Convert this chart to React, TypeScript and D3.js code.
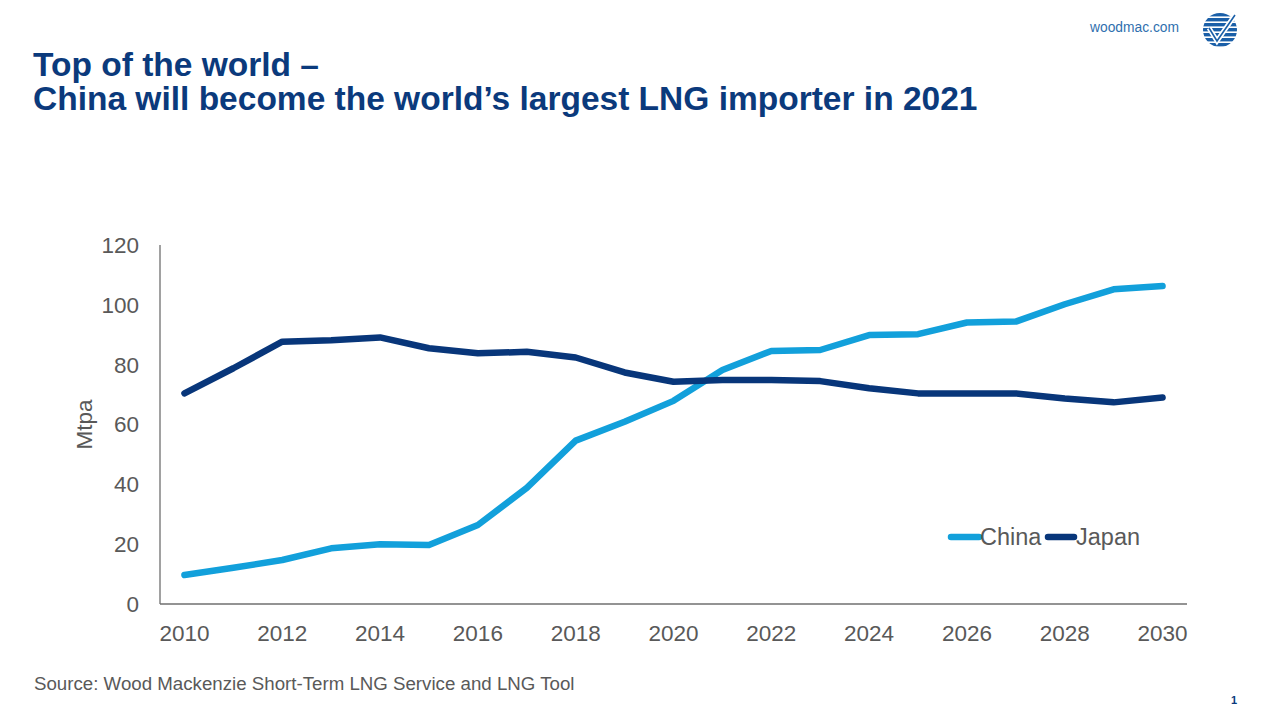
import React from 'react';
import * as d3 from 'd3';

const years = d3.range(2010, 2031).map(String);
const xTickLabels = ['2010', '2012', '2014', '2016', '2018', '2020', '2022', '2024', '2026', '2028', '2030'];
const yTicks = [0, 20, 40, 60, 80, 100, 120];

const china = [9.7, 12.1, 14.7, 18.6, 20.0, 19.7, 26.4, 38.8, 54.6, 60.9, 67.9, 78.2, 84.6, 84.9, 89.9, 90.2, 94.1, 94.4, 100.2, 105.2, 106.3];
const japan = [70.4, 78.8, 87.7, 88.2, 89.1, 85.5, 83.8, 84.3, 82.4, 77.4, 74.3, 74.9, 74.9, 74.5, 72.1, 70.4, 70.4, 70.4, 68.7, 67.4, 69.0];

const series = [
    { name: 'China', values: china, color: '#12a0db' },
    { name: 'Japan', values: japan, color: '#08367a' },
];

const W = 1280;
const H = 720;
const plot = { left: 160, right: 1187, top: 245, bottom: 604 };
const font = 'Arial, "Liberation Sans", sans-serif';
const navy = '#0b3a7c';
const grey = '#595959';

export default function App() {
    const x = d3.scaleBand().domain(years).range([plot.left, plot.right]);
    const y = d3.scaleLinear().domain([0, 120]).range([plot.bottom, plot.top]);
    const cx = (yr: string) => x(yr)! + x.bandwidth() / 2;

    const line = d3
        .line<number>()
        .x((_, i) => cx(years[i]))
        .y((v) => y(v));

    // logo stripes
    const logo = { cx: 1220, cy: 30, r: 17 };
    const stripes = d3.range(-logo.r, logo.r, 5);
    const check = `M${logo.cx - 11},${logo.cy - 2} L${logo.cx - 3},${logo.cy + 11} L${logo.cx + 15},${logo.cy - 15}`;

    return (
        <svg
            width={W}
            height={H}
            style={{ position: 'absolute', left: 0, top: 0, background: '#fff' }}
            fontFamily={font}
        >
            <rect width={W} height={H} fill="#fff" />

            {/* header */}
            <text x={1090} y={32} fontSize={13.8} fill="#2f6fae">woodmac.com</text>
            <defs>
                <clipPath id="logoClip">
                    <circle cx={logo.cx} cy={logo.cy} r={logo.r} />
                </clipPath>
            </defs>
            <g clipPath="url(#logoClip)">
                <circle cx={logo.cx} cy={logo.cy} r={logo.r} fill="#fff" />
                {stripes.map((s, i) => (
                    <rect key={i} x={logo.cx - logo.r} y={logo.cy + s} width={logo.r * 2} height={3.4} fill="#1a5fa8" />
                ))}
            </g>
            <path d={check} fill="none" stroke="#fff" strokeWidth={5} />
            <path d={check} fill="none" stroke="#1a5fa8" strokeWidth={1.6} />

            <text x={33} y={76} fontSize={33.5} fontWeight="bold" fill={navy}>Top of the world –</text>
            <text x={33} y={110} fontSize={33.5} fontWeight="bold" fill={navy}>
                China will become the world’s largest LNG importer in 2021
            </text>

            {/* axes */}
            <line x1={plot.left} x2={plot.left} y1={plot.top} y2={plot.bottom} stroke="#6f6f6f" strokeWidth={1.3} />
            <line x1={plot.left} x2={plot.right} y1={plot.bottom} y2={plot.bottom} stroke="#6f6f6f" strokeWidth={1.3} />

            {yTicks.map((t) => (
                <text key={t} x={139} y={y(t)} dy="0.35em" textAnchor="end" fontSize={22.5} fill={grey}>
                    {t}
                </text>
            ))}
            {xTickLabels.map((t) => (
                <text key={t} x={cx(t)} y={641} textAnchor="middle" fontSize={22.5} fill={grey}>
                    {t}
                </text>
            ))}
            <text
                transform={`translate(92,${(plot.top + plot.bottom) / 2}) rotate(-90)`}
                textAnchor="middle"
                fontSize={22.5}
                fill={grey}
            >
                Mtpa
            </text>

            {/* lines */}
            {series.map((s) => (
                <path
                    key={s.name}
                    d={line(s.values)!}
                    fill="none"
                    stroke={s.color}
                    strokeWidth={6.5}
                    strokeLinejoin="round"
                    strokeLinecap="round"
                />
            ))}

            {/* legend */}
            <line x1={951} x2={979} y1={537} y2={537} stroke={series[0].color} strokeWidth={6.5} strokeLinecap="round" />
            <text x={980} y={545} fontSize={23.5} fill={grey}>China</text>
            <line x1={1048} x2={1074} y1={537} y2={537} stroke={series[1].color} strokeWidth={6.5} strokeLinecap="round" />
            <text x={1076} y={545} fontSize={23.5} fill={grey}>Japan</text>

            {/* footer */}
            <text x={34} y={690} fontSize={18.7} fill={grey}>
                Source: Wood Mackenzie Short-Term LNG Service and LNG Tool
            </text>
            <text x={1231} y={704} fontSize={11} fontWeight="bold" fill={navy}>1</text>
        </svg>
    );
}
